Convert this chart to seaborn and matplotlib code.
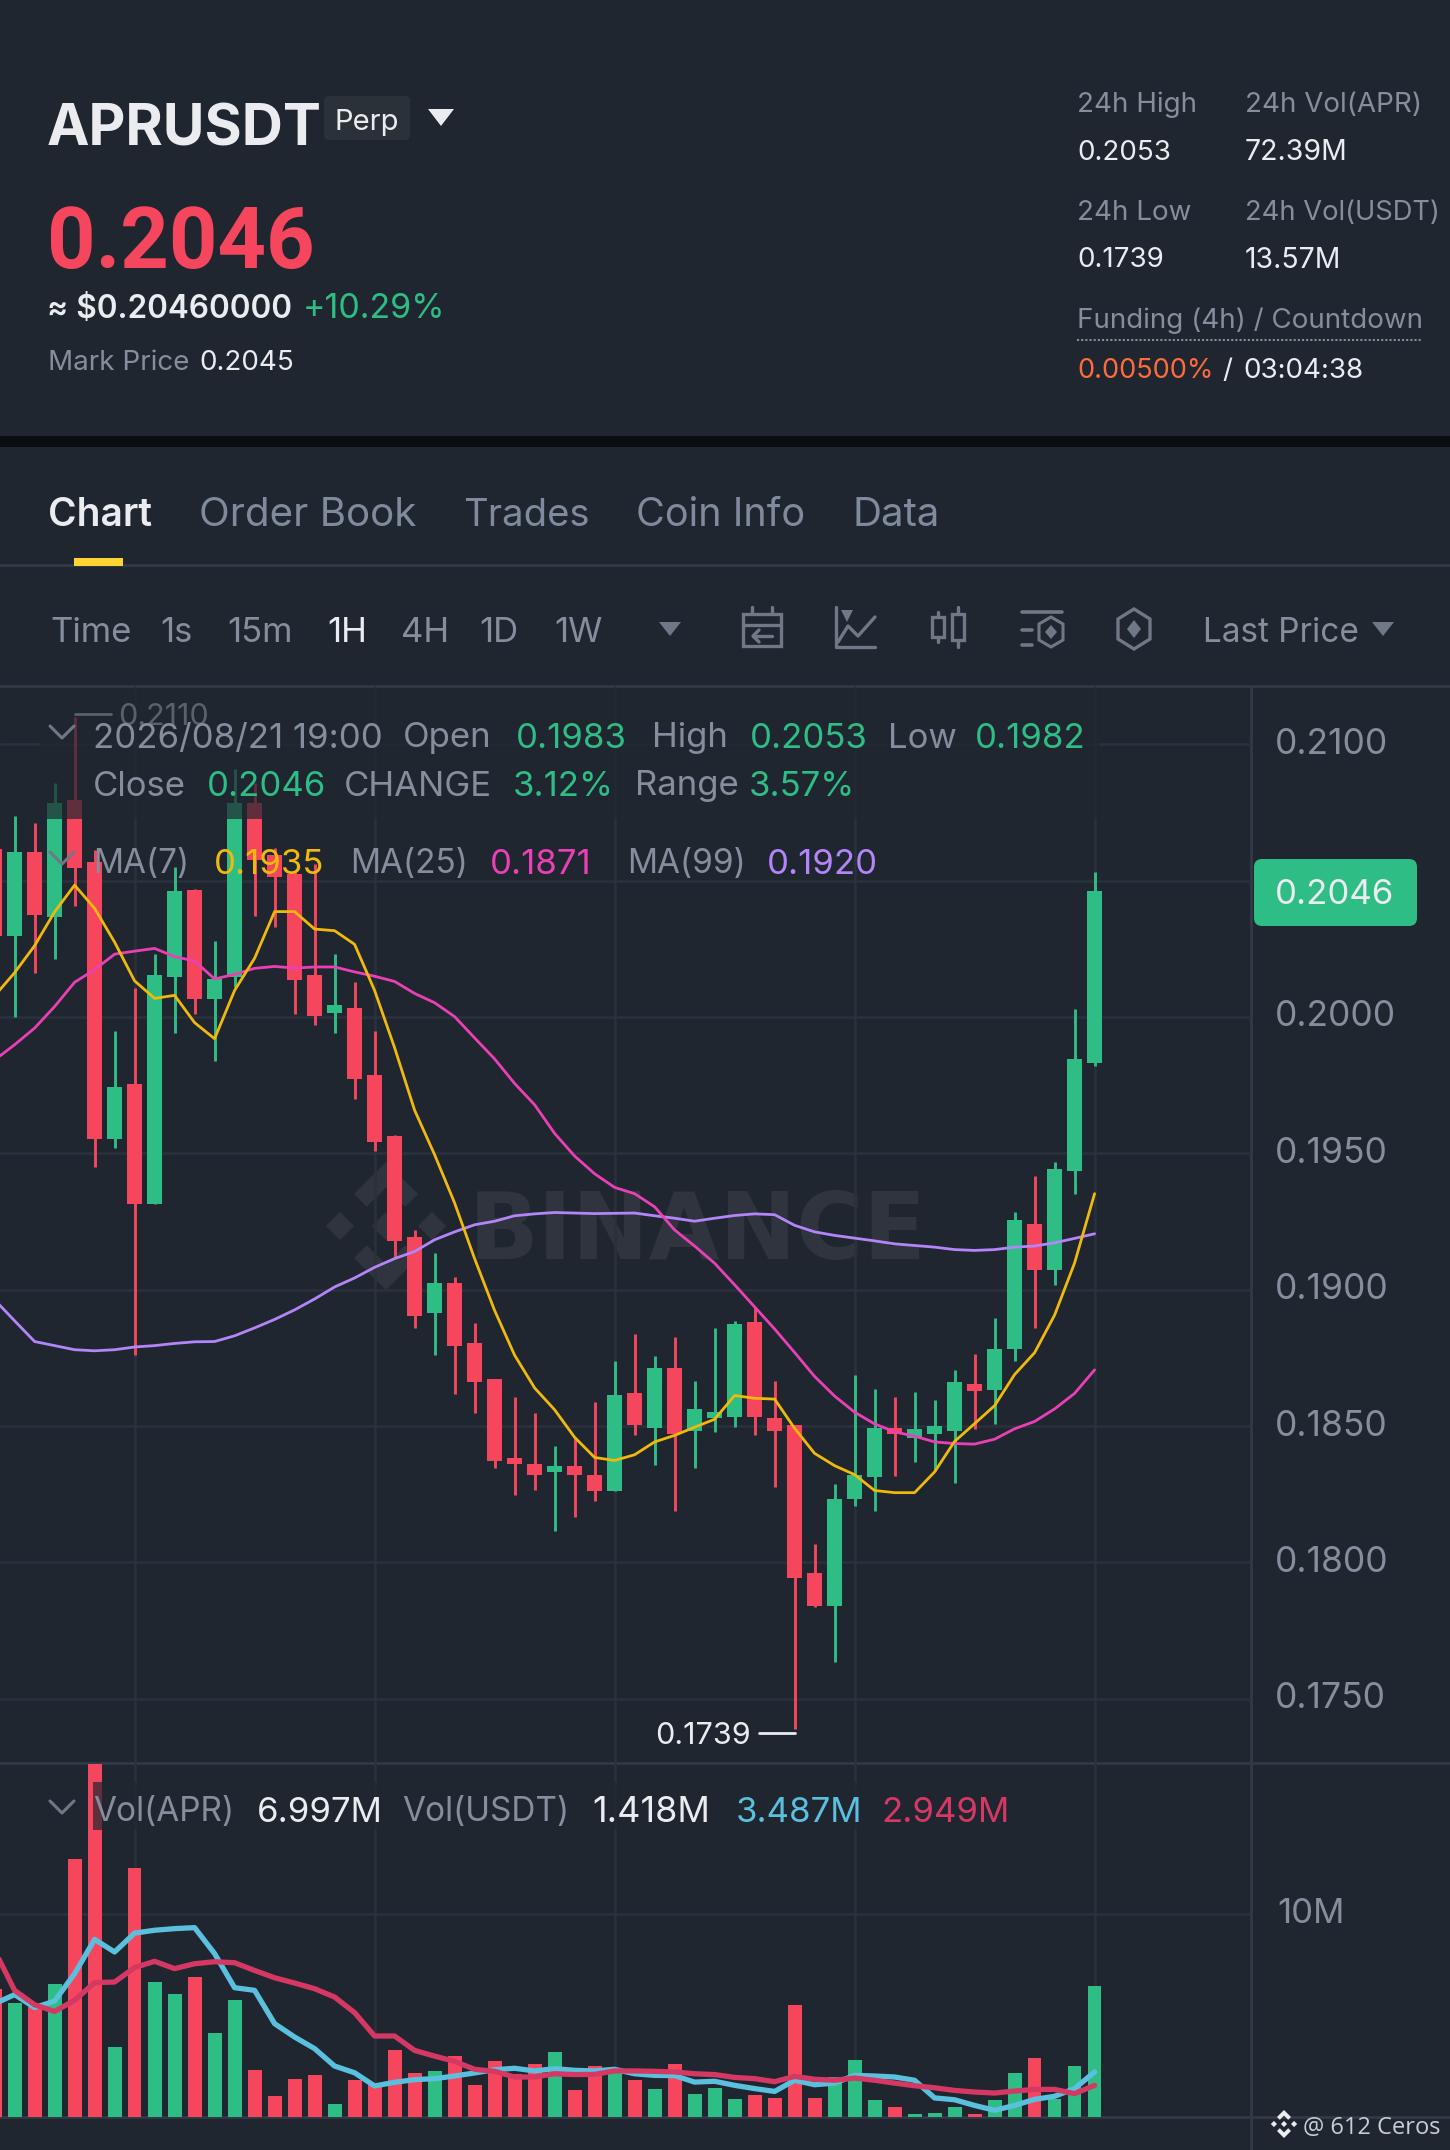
import matplotlib
matplotlib.use('Agg')
import matplotlib.pyplot as plt
from matplotlib.patches import FancyBboxPatch, Polygon, Rectangle
from matplotlib.transforms import ScaledTranslation
import numpy as np
import pandas as pd
import seaborn as sns

# candles (price units)
opens = [0.20614, 0.20296, 0.20605, 0.20365, 0.20795, 0.20566, 0.19554, 0.19754, 0.19314, 0.20145,
         0.20466, 0.20064, 0.20145, 0.20784, 0.20594, 0.20525, 0.20154, 0.20013, 0.20034, 0.19786,
         0.19564, 0.19192, 0.18914, 0.19024, 0.18804, 0.18673, 0.18382, 0.18361, 0.18331, 0.18352,
         0.18322, 0.18262, 0.18623, 0.18492, 0.18713, 0.18482, 0.18531, 0.18534, 0.18882, 0.18531,
         0.18503, 0.17963, 0.17841, 0.18233, 0.18313, 0.18492, 0.18458, 0.18472, 0.18481, 0.18653,
         0.18632, 0.18782, 0.19242, 0.19072, 0.19434, 0.1983]
closes = [0.20296, 0.20605, 0.20374, 0.20784, 0.20546, 0.19554, 0.19743, 0.19314, 0.20154, 0.20463,
          0.20064, 0.20139, 0.20784, 0.20575, 0.20513, 0.20134, 0.20005, 0.20045, 0.19774, 0.19543,
          0.19179, 0.18904, 0.19024, 0.18793, 0.18662, 0.18372, 0.18361, 0.18322, 0.18352, 0.18322,
          0.18262, 0.18613, 0.18503, 0.18713, 0.18472, 0.18563, 0.18552, 0.18874, 0.18534, 0.18482,
          0.17942, 0.17841, 0.18233, 0.18322, 0.18492, 0.18472, 0.18491, 0.18501, 0.18661, 0.1863,
          0.18782, 0.19254, 0.19072, 0.19444, 0.19845, 0.2046]
highs = [0.2065, 0.20738, 0.2071, 0.20859, 0.2110, 0.2061, 0.19948, 0.20107, 0.2023, 0.20549,
         0.20469, 0.20278, 0.20909, 0.20859, 0.2062, 0.2053, 0.20562, 0.2023, 0.20128, 0.19948,
         0.19567, 0.1922, 0.19136, 0.19047, 0.18878, 0.18673, 0.18607, 0.18548, 0.18427, 0.1846,
         0.18588, 0.18738, 0.18838, 0.18758, 0.18827, 0.18667, 0.18859, 0.18887, 0.18937, 0.18667,
         0.18503, 0.18067, 0.18288, 0.18688, 0.18636, 0.18606, 0.18625, 0.18596, 0.18706, 0.18766,
         0.18897, 0.19286, 0.19417, 0.19467, 0.20029, 0.2053]
lows = [0.2025, 0.19999, 0.2016, 0.20211, 0.20408, 0.19449, 0.19518, 0.1876, 0.19314, 0.1994,
        0.20009, 0.19839, 0.2011, 0.20369, 0.2033, 0.20009, 0.19969, 0.1994, 0.19698, 0.19508,
        0.1912, 0.18859, 0.18759, 0.18618, 0.18548, 0.18348, 0.18246, 0.18267, 0.18116, 0.18167,
        0.18226, 0.18262, 0.18466, 0.18356, 0.18187, 0.18348, 0.18478, 0.18497, 0.18466, 0.18277,
        0.1739, 0.17837, 0.17637, 0.18207, 0.18187, 0.18318, 0.18367, 0.18337, 0.18291, 0.18488,
        0.18508, 0.18737, 0.18858, 0.19018, 0.19349, 0.1982]

ma7 = [0.20077, 0.20162, 0.20261, 0.20385, 0.20483, 0.20398, 0.20274, 0.20132, 0.20068, 0.20079,
       0.19979, 0.1992, 0.20097, 0.20215, 0.20386, 0.20386, 0.20322, 0.20316, 0.20266, 0.20097,
       0.19887, 0.19658, 0.19495, 0.19318, 0.19114, 0.18924, 0.1876, 0.1864, 0.1856, 0.18459,
       0.18385, 0.18374, 0.18395, 0.18442, 0.18466, 0.18496, 0.18525, 0.18612, 0.18602, 0.18599,
       0.18492, 0.184, 0.18355, 0.18322, 0.18264, 0.18256, 0.18256, 0.18332, 0.18444, 0.18509,
       0.18575, 0.18689, 0.18769, 0.18907, 0.19098, 0.19352]
ma25 = [0.19842, 0.19898, 0.19959, 0.20038, 0.20127, 0.20173, 0.2023, 0.20241, 0.20251, 0.20221,
        0.20205, 0.20139, 0.20156, 0.20178, 0.20185, 0.20179, 0.20183, 0.20183, 0.20165, 0.20149,
        0.2013, 0.20086, 0.20052, 0.20001, 0.19923, 0.19846, 0.19756, 0.19678, 0.19573, 0.1949,
        0.19425, 0.19375, 0.19352, 0.19304, 0.19219, 0.1916, 0.19097, 0.19018, 0.18937, 0.18856,
        0.1877, 0.18682, 0.1861, 0.18551, 0.18508, 0.18479, 0.18463, 0.18442, 0.18436, 0.18434,
        0.18452, 0.1849, 0.18517, 0.18563, 0.1862, 0.18706]
ma99 = [0.18963, 0.18886, 0.1881, 0.18795, 0.1878, 0.18776, 0.1878, 0.1879, 0.18795, 0.18803,
        0.18809, 0.1881, 0.18831, 0.1886, 0.18891, 0.18926, 0.18966, 0.1901, 0.19043, 0.19082,
        0.19114, 0.1914, 0.19183, 0.19212, 0.19238, 0.19251, 0.19271, 0.19278, 0.19283, 0.19281,
        0.19279, 0.1928, 0.19281, 0.19271, 0.19262, 0.19251, 0.19262, 0.19272, 0.19278, 0.19275,
        0.19236, 0.19212, 0.19199, 0.19189, 0.19179, 0.19168, 0.19162, 0.19156, 0.19147, 0.19144,
        0.19147, 0.19156, 0.1916, 0.19172, 0.19188, 0.19205]

# volume panel, in millions
volumes = [6.32, 5.62, 5.42, 6.54, 12.69, 17.4, 3.43, 12.28, 6.65, 6.08,
           6.88, 4.14, 5.75, 2.3, 1.03, 1.87, 2.07, 0.62, 1.81, 1.56,
           3.32, 2.15, 2.28, 2.99, 1.56, 2.74, 2.1, 2.59, 3.19, 1.33,
           2.53, 2.38, 1.81, 1.38, 2.63, 1.13, 1.43, 0.9, 1.1, 0.95,
           5.5, 0.95, 1.97, 2.79, 0.85, 0.51, 0.16, 0.18, 0.48, 0.16,
           0.84, 2.18, 2.89, 0.87, 2.53, 6.47]
vol_ma_a = [5.58, 6.03, 5.39, 5.71, 7.06, 8.75, 8.13, 9.06, 9.2, 9.28,
            9.33, 8.05, 6.37, 6.24, 4.6, 3.94, 3.37, 2.51, 2.18, 1.53,
            1.71, 1.84, 1.89, 2.02, 2.17, 2.33, 2.4, 2.27, 2.38, 2.3,
            2.27, 2.35, 2.13, 2.05, 2.04, 1.72, 1.76, 1.56, 1.4, 1.26,
            1.81, 1.59, 1.67, 2.05, 2.02, 1.97, 1.81, 0.94, 0.85, 0.57,
            0.33, 0.57, 0.87, 1.02, 1.4, 2.22]
vol_ma_b = [8.21, 6.24, 5.53, 5.2, 5.75, 6.62, 6.65, 7.36, 7.67, 7.31,
            7.55, 7.65, 7.6, 7.22, 6.86, 6.6, 6.32, 5.91, 5.14, 3.99,
            3.99, 3.28, 3.0, 2.74, 2.35, 2.25, 1.97, 1.97, 2.13, 2.09,
            2.1, 2.27, 2.27, 2.25, 2.22, 2.13, 2.09, 1.95, 1.89, 1.74,
            2.0, 1.86, 1.81, 1.92, 1.81, 1.67, 1.54, 1.44, 1.31, 1.23,
            1.18, 1.28, 1.36, 1.36, 1.15, 1.56]

price_ticks = [0.175, 0.18, 0.185, 0.19, 0.195, 0.20, 0.205, 0.21]
# the 0.2050 label sits under the last price tag, so it stays empty
price_labels = ['0.1750', '0.1800', '0.1850', '0.1900', '0.1950', '0.2000', '', '0.2100']
time_ticks = [7, 19, 31, 43, 55]

BG = '#1f2630'
GRID = '#2a313c'
RULE = '#333a47'
GREEN = '#2ebd85'
RED = '#f6465d'
GRAY = '#848e9c'
WHITE = '#eaecef'
C_MA7 = '#f0b90b'
C_MA25 = '#eb40b5'
C_MA99 = '#b385f8'
C_VA = '#5bc0de'
C_VB = '#d63864'
MARK = '#2f343f'

sns.set_theme(style='dark', rc={'axes.facecolor': BG, 'figure.facecolor': BG})
plt.rcParams['font.family'] = ['Inter', 'DejaVu Sans']

fig = plt.figure(figsize=(14.5, 21.5), dpi=100)
W, H = 1450, 2150


def panel(left, top, right, bottom, z):
    ax = fig.add_axes([left / W, 1 - bottom / H, (right - left) / W, (bottom - top) / H], zorder=z)
    return ax


def overlay(z):
    ax = fig.add_axes([0, 0, 1, 1], zorder=z)
    ax.set_xlim(0, W)
    ax.set_ylim(H, 0)
    ax.axis('off')
    ax.patch.set_alpha(0)
    return ax


back = overlay(0)
price_ax = panel(0, 686, 1251, 1763, 1)
vol_ax = panel(0, 1763, 1251, 2117, 1)
top = overlay(3)
for a in (price_ax, vol_ax):
    a.patch.set_alpha(0)

idx = np.arange(len(opens))
candles = pd.DataFrame({'i': idx, 'open': opens, 'close': closes, 'high': highs, 'low': lows})
candles['side'] = np.where(candles.close >= candles.open, 'up', 'down')
colors = candles.side.map({'up': GREEN, 'down': RED})

# price panel
price_ax.vlines(candles.i, candles.low, candles.high, colors=colors, lw=2.1, zorder=2)
price_ax.bar(candles.i, (candles.close - candles.open).abs(), bottom=candles[['open', 'close']].min(axis=1),
             width=0.715, color=colors, edgecolor='none', linewidth=0, zorder=2)
for values, col in [(ma99, C_MA99), (ma25, C_MA25), (ma7, C_MA7)]:
    sns.lineplot(x=idx, y=values, color=col, lw=2.0, ax=price_ax, zorder=3, estimator=None)
price_ax.set_xlim(0.27, 62.82)
price_ax.set_ylim(0.17265, 0.21213)
price_ax.set_yticks(price_ticks)
price_ax.set_yticklabels(price_labels, va='center_baseline')
price_ax.set_xticks(time_ticks)
price_ax.set_xticklabels([])
price_ax.yaxis.tick_right()
price_ax.tick_params(axis='y', length=0, pad=17, labelsize=25.5, labelcolor=GRAY)
price_ax.tick_params(axis='x', length=0)
price_ax.grid(True, color=GRID, lw=1.8)
price_ax.set_axisbelow(True)
price_ax.set_ylabel('')
for s in price_ax.spines.values():
    s.set_visible(False)

# extreme labels
price_ax.plot([4, 5.8], [0.2111, 0.2111], color=WHITE, lw=2.0, zorder=3)
price_ax.text(6.2, 0.2111, '0.2110', color=WHITE, fontsize=22, va='center_baseline', zorder=3)
price_ax.plot([38.2, 40], [0.17375, 0.17375], color=WHITE, lw=2.0, zorder=3)
price_ax.text(37.8, 0.17375, '0.1739', color=WHITE, fontsize=22, va='center_baseline', ha='right', zorder=3)

# volume panel
vol_df = pd.DataFrame({'i': idx, 'vol': volumes, 'side': candles.side})
sns.barplot(data=vol_df, x='i', y='vol', hue='side', palette={'up': GREEN, 'down': RED}, native_scale=True,
            dodge=False, width=0.69, saturation=1, legend=False, errorbar=None, ax=vol_ax, zorder=2,
            edgecolor='none', linewidth=0)
sns.lineplot(x=idx, y=vol_ma_a, color=C_VA, lw=3.8, ax=vol_ax, zorder=3, estimator=None)
sns.lineplot(x=idx, y=vol_ma_b, color=C_VB, lw=3.8, ax=vol_ax, zorder=3, estimator=None)
vol_ax.set_xlim(0.27, 62.82)
vol_ax.set_ylim(0, 17.44)
vol_ax.set_yticks([10])
vol_ax.set_yticklabels(['10M'], va='center_baseline')
vol_ax.set_xticks(time_ticks)
vol_ax.set_xticklabels([])
vol_ax.yaxis.tick_right()
vol_ax.tick_params(axis='y', length=0, pad=19, labelsize=25, labelcolor=GRAY)
vol_ax.tick_params(axis='x', length=0)
vol_ax.grid(True, color=GRID, lw=1.8)
vol_ax.set_axisbelow(True)
vol_ax.set_xlabel('')
vol_ax.set_ylabel('')
for s in vol_ax.spines.values():
    s.set_visible(False)

# the axis labels sit a touch above their grid lines
lift = ScaledTranslation(0, 2.5 / 72, fig.dpi_scale_trans)
for lbl in price_ax.get_yticklabels() + vol_ax.get_yticklabels():
    lbl.set_transform(lbl.get_transform() + lift)


def txt(ax, x, y, s, size=25, color=GRAY, weight='normal', ha='left', family=None):
    kw = {'family': family} if family else {}
    return ax.text(x, y, s, fontsize=size, color=color, fontweight=weight, ha=ha, va='center_baseline', **kw)


def logo(ax, cx, cy, r, color):
    # centre diamond, side diamonds and the two chevrons
    d = r * 0.22
    for ox, oy in [(0, 0), (-r * 0.72, 0), (r * 0.72, 0)]:
        ax.add_patch(Polygon([(cx + ox - d, cy + oy), (cx + ox, cy + oy - d), (cx + ox + d, cy + oy), (cx + ox, cy + oy + d)],
                             color=color, lw=0))
    t = r * 0.2
    for sgn in (-1, 1):
        ax.add_patch(Polygon([(cx - r * 0.5, cy + sgn * r * 0.5), (cx, cy + sgn * r), (cx + r * 0.5, cy + sgn * r * 0.5),
                              (cx + r * 0.5 - t, cy + sgn * (r * 0.5 - t)), (cx, cy + sgn * (r - 2 * t)),
                              (cx - r * 0.5 + t, cy + sgn * (r * 0.5 - t))], color=color, lw=0))


# watermark sits behind the candles
logo(back, 386, 1226, 64, MARK)
txt(back, 469, 1224, 'BINANCE', 66, MARK, 'bold', family='DejaVu Sans')

# page structure
back.add_patch(Rectangle((0, 436), W, 11, color='#0b0e11', lw=0))
for y in (565, 686, 1763, 2117):
    back.plot([0, W], [y, y], color=RULE, lw=2)
back.plot([1251, 1251], [686, H], color=RULE, lw=2)
back.add_patch(Rectangle((74, 558), 49, 8, color='#fcd535', lw=0, zorder=4))

# header
txt(top, 47, 125, 'APRUSDT', 41, WHITE, 'bold')
top.add_patch(FancyBboxPatch((324, 96), 86, 44, boxstyle='round,pad=0,rounding_size=5', color='#2b3139', lw=0))
txt(top, 367, 119, 'Perp', 21, WHITE, ha='center')
top.add_patch(Polygon([(428, 109), (454, 109), (441, 126)], color=WHITE, lw=0))
txt(top, 47, 236, '0.2046', 61, RED, 'bold', family='Roboto')
txt(top, 47, 306, '≈ $0.20460000', 22.7, WHITE, 'semibold')
txt(top, 303, 306, '+10.29%', 24.5, GREEN)
txt(top, 48, 360, 'Mark Price', 20)
txt(top, 199, 360, '0.2045', 20, WHITE)

txt(top, 1077, 102, '24h High', 20)
txt(top, 1245, 102, '24h Vol(APR)', 20)
txt(top, 1077, 150, '0.2053', 20, WHITE)
txt(top, 1245, 150, '72.39M', 20.5, WHITE)
txt(top, 1077, 210, '24h Low', 20)
txt(top, 1245, 210, '24h Vol(USDT)', 19.7)
txt(top, 1077, 257, '0.1739', 20, WHITE)
txt(top, 1245, 257, '13.57M', 20.5, WHITE)
txt(top, 1077, 318, 'Funding (4h) / Countdown', 20)
top.plot([1077, 1422], [340, 340], color=GRAY, lw=1.5, ls=(0, (1, 1)))
txt(top, 1077, 368, '0.00500%', 19.5, '#ff6b3d')
txt(top, 1222, 368, '/', 20, WHITE)
txt(top, 1243, 368, '03:04:38', 20, WHITE)

# tabs
txt(top, 48, 512, 'Chart', 28, WHITE, 'semibold')
for x, s, size in [(199, 'Order Book', 29), (463, 'Trades', 27.5), (636, 'Coin Info', 28.5), (853, 'Data', 29)]:
    txt(top, x, 512, s, size, '#7f8a9c')

# toolbar
for x, s, c in [(50, 'Time', GRAY), (160, '1s', GRAY), (227, '15m', GRAY), (327, '1H', WHITE), (401, '4H', GRAY),
                (479, '1D', GRAY), (554, '1W', GRAY)]:
    txt(top, x, 630, s, 25, c)
txt(top, 1203, 630, 'Last Price', 24)
ICON = '#6f7886'
for x0 in (659, 1372):
    top.add_patch(Polygon([(x0, 622), (x0 + 22, 622), (x0 + 11, 636)], color=ICON, lw=0))
# calendar
top.add_patch(Rectangle((743, 614), 38, 32, fill=False, ec=ICON, lw=2.4))
top.plot([743, 781], [625, 625], color=ICON, lw=2.4)
top.plot([752, 752], [607, 614], color=ICON, lw=2.4)
top.plot([772, 772], [607, 614], color=ICON, lw=2.4)
top.plot([753, 772], [636, 636], color=ICON, lw=2.4)
top.plot([759, 753, 759], [630, 636, 642], color=ICON, lw=2.4)
# indicator chart
top.plot([836, 836, 875], [607, 647, 647], color=ICON, lw=2.4)
top.plot([838, 848, 858, 875], [642, 626, 636, 617], color=ICON, lw=2.4)
top.add_patch(Polygon([(841, 610), (853, 610), (847, 622)], color=ICON, lw=0))
# candles
for cx, half, wick in [(938, 10, 15), (958, 13, 20)]:
    top.plot([cx, cx], [627 - wick, 627 + wick], color=ICON, lw=2.4)
    top.add_patch(Rectangle((cx - 6, 627 - half), 12, 2 * half, fc=BG, ec=ICON, lw=2.4, zorder=4))
# settings and depth icons
top.plot([1022, 1062], [612, 612], color=ICON, lw=2.6)
top.plot([1022, 1032], [630, 630], color=ICON, lw=2.6)
top.plot([1022, 1032], [645, 645], color=ICON, lw=2.6)
hexa = [(0, -15), (12, -8), (12, 8), (0, 15), (-12, 8), (-12, -8)]
top.add_patch(Polygon([(1051 + a, 632 + b) for a, b in hexa], fill=False, ec=ICON, lw=2.2))
top.add_patch(Polygon([(1045, 632), (1051, 625), (1057, 632), (1051, 639)], color=ICON, lw=0))
hexb = [(0, -20), (16, -10), (16, 10), (0, 20), (-16, 10), (-16, -10)]
top.add_patch(Polygon([(1134 + a, 629 + b) for a, b in hexb], fill=False, ec=ICON, lw=2.4))
top.add_patch(Polygon([(1127, 629), (1134, 620), (1141, 629), (1134, 638)], color=ICON, lw=0))

# dim band behind the first legend rows
top.add_patch(Rectangle((40, 688), 1060, 131, color=BG, alpha=0.7, lw=0))
top.add_patch(Rectangle((93, 1782), 920, 48, color=BG, alpha=0.7, lw=0))


def chevron(x, y):
    top.plot([x, x + 12, x + 24], [y - 6, y + 6, y - 6], color=ICON, lw=2.2)


chevron(50, 732)
chevron(50, 858)
chevron(50, 1807)

row = [(93, '2026/08/21 19:00', GRAY), (403, 'Open', GRAY), (516, '0.1983', GREEN), (652, 'High', GRAY),
       (750, '0.2053', GREEN), (888, 'Low', GRAY), (975, '0.1982', GREEN)]
for x, s, c in row:
    txt(top, x, 735, s, 25, c)
row = [(93, 'Close', GRAY), (207, '0.2046', GREEN), (344, 'CHANGE', GRAY), (513, '3.12%', GREEN),
       (635, 'Range', GRAY), (749, '3.57%', GREEN)]
for x, s, c in row:
    txt(top, x, 783, s, 25, c)
row = [(93, 'MA(7)', GRAY, 24), (214, '0.1935', C_MA7, 25), (350, 'MA(25)', GRAY, 24), (490, '0.1871', C_MA25, 25),
       (627, 'MA(99)', GRAY, 24), (767, '0.1920', C_MA99, 25)]
for x, s, c, size in row:
    txt(top, x, 861, s, size, c)
row = [(93, 'Vol(APR)', GRAY, 24), (257, '6.997M', WHITE, 25), (402, 'Vol(USDT)', GRAY, 24), (592, '1.418M', WHITE, 26),
       (736, '3.487M', C_VA, 25), (881, '2.949M', C_VB, 25)]
for x, s, c, size in row:
    txt(top, x, 1809, s, size, c)

# last price tag
top.add_patch(FancyBboxPatch((1254, 859), 163, 67, boxstyle='round,pad=0,rounding_size=8', color=GREEN, lw=0))
txt(top, 1335, 892, '0.2046', 25, WHITE, ha='center')

# footer
logo(top, 1284, 2124, 14, WHITE)
txt(top, 1303, 2125, '@ 612 Ceros', 17, '#c9ced6', family='Open Sans')

fig.savefig('out.png', dpi=100, facecolor=BG)
